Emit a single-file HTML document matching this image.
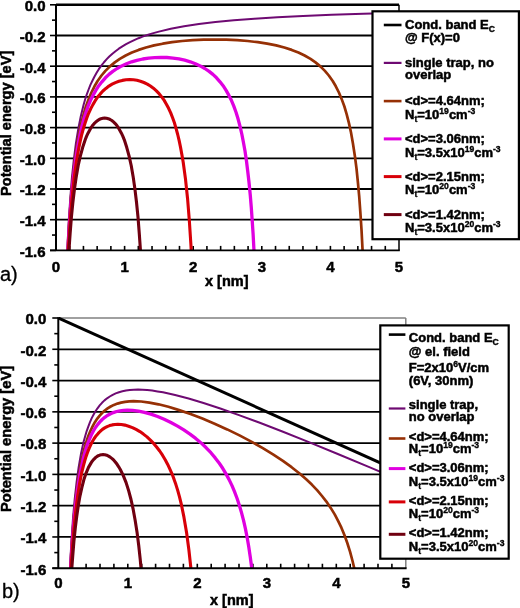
<!DOCTYPE html>
<html><head><meta charset="utf-8"><style>
html,body{margin:0;padding:0;background:#fff;width:520px;height:608px;overflow:hidden;}
svg{display:block;}
</style></head><body>
<svg width="520" height="608" viewBox="0 0 520 608" style="font-family:'Liberation Sans', Arial, sans-serif">
<style>text{stroke:#000;stroke-width:0.5px;}</style>
<rect width="520" height="608" fill="#fff"/>
<clipPath id="ca"><rect x="56.00" y="3.80" width="343.00" height="246.60"/></clipPath>
<line x1="56.00" y1="35.50" x2="399.00" y2="35.50" stroke="#000" stroke-width="1.8"/>
<line x1="56.00" y1="66.20" x2="399.00" y2="66.20" stroke="#000" stroke-width="1.8"/>
<line x1="56.00" y1="96.90" x2="399.00" y2="96.90" stroke="#000" stroke-width="1.8"/>
<line x1="56.00" y1="127.60" x2="399.00" y2="127.60" stroke="#000" stroke-width="1.8"/>
<line x1="56.00" y1="158.30" x2="399.00" y2="158.30" stroke="#000" stroke-width="1.8"/>
<line x1="56.00" y1="189.00" x2="399.00" y2="189.00" stroke="#000" stroke-width="1.8"/>
<line x1="56.00" y1="219.70" x2="399.00" y2="219.70" stroke="#000" stroke-width="1.8"/>
<line x1="50.00" y1="4.80" x2="56.00" y2="4.80" stroke="#000" stroke-width="1.6"/>
<line x1="52.00" y1="20.15" x2="56.00" y2="20.15" stroke="#000" stroke-width="1.6"/>
<line x1="50.00" y1="35.50" x2="56.00" y2="35.50" stroke="#000" stroke-width="1.6"/>
<line x1="52.00" y1="50.85" x2="56.00" y2="50.85" stroke="#000" stroke-width="1.6"/>
<line x1="50.00" y1="66.20" x2="56.00" y2="66.20" stroke="#000" stroke-width="1.6"/>
<line x1="52.00" y1="81.55" x2="56.00" y2="81.55" stroke="#000" stroke-width="1.6"/>
<line x1="50.00" y1="96.90" x2="56.00" y2="96.90" stroke="#000" stroke-width="1.6"/>
<line x1="52.00" y1="112.25" x2="56.00" y2="112.25" stroke="#000" stroke-width="1.6"/>
<line x1="50.00" y1="127.60" x2="56.00" y2="127.60" stroke="#000" stroke-width="1.6"/>
<line x1="52.00" y1="142.95" x2="56.00" y2="142.95" stroke="#000" stroke-width="1.6"/>
<line x1="50.00" y1="158.30" x2="56.00" y2="158.30" stroke="#000" stroke-width="1.6"/>
<line x1="52.00" y1="173.65" x2="56.00" y2="173.65" stroke="#000" stroke-width="1.6"/>
<line x1="50.00" y1="189.00" x2="56.00" y2="189.00" stroke="#000" stroke-width="1.6"/>
<line x1="52.00" y1="204.35" x2="56.00" y2="204.35" stroke="#000" stroke-width="1.6"/>
<line x1="50.00" y1="219.70" x2="56.00" y2="219.70" stroke="#000" stroke-width="1.6"/>
<line x1="52.00" y1="235.05" x2="56.00" y2="235.05" stroke="#000" stroke-width="1.6"/>
<line x1="50.00" y1="250.40" x2="56.00" y2="250.40" stroke="#000" stroke-width="1.6"/>
<line x1="69.72" y1="250.40" x2="69.72" y2="245.90" stroke="#000" stroke-width="1.6"/>
<line x1="83.44" y1="250.40" x2="83.44" y2="245.90" stroke="#000" stroke-width="1.6"/>
<line x1="97.16" y1="250.40" x2="97.16" y2="245.90" stroke="#000" stroke-width="1.6"/>
<line x1="110.88" y1="250.40" x2="110.88" y2="245.90" stroke="#000" stroke-width="1.6"/>
<line x1="124.60" y1="250.40" x2="124.60" y2="245.90" stroke="#000" stroke-width="1.6"/>
<line x1="138.32" y1="250.40" x2="138.32" y2="245.90" stroke="#000" stroke-width="1.6"/>
<line x1="152.04" y1="250.40" x2="152.04" y2="245.90" stroke="#000" stroke-width="1.6"/>
<line x1="165.76" y1="250.40" x2="165.76" y2="245.90" stroke="#000" stroke-width="1.6"/>
<line x1="179.48" y1="250.40" x2="179.48" y2="245.90" stroke="#000" stroke-width="1.6"/>
<line x1="193.20" y1="250.40" x2="193.20" y2="245.90" stroke="#000" stroke-width="1.6"/>
<line x1="206.92" y1="250.40" x2="206.92" y2="245.90" stroke="#000" stroke-width="1.6"/>
<line x1="220.64" y1="250.40" x2="220.64" y2="245.90" stroke="#000" stroke-width="1.6"/>
<line x1="234.36" y1="250.40" x2="234.36" y2="245.90" stroke="#000" stroke-width="1.6"/>
<line x1="248.08" y1="250.40" x2="248.08" y2="245.90" stroke="#000" stroke-width="1.6"/>
<line x1="261.80" y1="250.40" x2="261.80" y2="245.90" stroke="#000" stroke-width="1.6"/>
<line x1="275.52" y1="250.40" x2="275.52" y2="245.90" stroke="#000" stroke-width="1.6"/>
<line x1="289.24" y1="250.40" x2="289.24" y2="245.90" stroke="#000" stroke-width="1.6"/>
<line x1="302.96" y1="250.40" x2="302.96" y2="245.90" stroke="#000" stroke-width="1.6"/>
<line x1="316.68" y1="250.40" x2="316.68" y2="245.90" stroke="#000" stroke-width="1.6"/>
<line x1="330.40" y1="250.40" x2="330.40" y2="245.90" stroke="#000" stroke-width="1.6"/>
<line x1="344.12" y1="250.40" x2="344.12" y2="245.90" stroke="#000" stroke-width="1.6"/>
<line x1="357.84" y1="250.40" x2="357.84" y2="245.90" stroke="#000" stroke-width="1.6"/>
<line x1="371.56" y1="250.40" x2="371.56" y2="245.90" stroke="#000" stroke-width="1.6"/>
<line x1="385.28" y1="250.40" x2="385.28" y2="245.90" stroke="#000" stroke-width="1.6"/>
<line x1="399.00" y1="4.80" x2="399.00" y2="250.40" stroke="#000" stroke-width="1.5"/>
<g clip-path="url(#ca)" fill="none" stroke-linejoin="round">
<path d="M66.3,272.5 67.5,245.1 68.8,219.9 70.3,198.3 71.9,177.9 73.8,159.9 75.9,143.5 78.2,129.3 80.8,116.2 83.6,104.7 85.1,99.5 86.8,94.3 88.6,89.5 90.4,84.9 92.4,80.7 94.4,76.7 96.6,72.8 98.8,69.2 101.3,65.7 103.8,62.5 106.5,59.4 109.3,56.5 112.4,53.7 115.5,51.2 118.8,48.7 122.4,46.4 126.1,44.2 130.0,42.1 134.2,40.1 138.6,38.2 143.2,36.4 148.2,34.7 153.4,33.1 158.9,31.6 170.8,28.8 184.1,26.3 198.9,24.1 215.4,22.1 233.8,20.3 254.4,18.7 277.4,17.3 303.0,16.0 331.6,14.8 363.4,13.8 399.0,12.8" stroke="#6e0a72" stroke-width="2.0"/>
<path d="M66.8,268.4 68.8,229.6 70.0,211.6 71.1,196.3 72.3,183.3 73.9,168.5 75.4,156.2 77.4,143.2 79.3,132.5 81.3,123.4 83.6,114.3 85.9,106.5 88.7,98.9 91.4,92.5 94.5,86.3 97.6,81.0 101.5,75.5 105.4,70.9 109.7,66.6 114.8,62.4 119.8,58.9 125.7,55.5 131.9,52.5 138.6,49.9 146.0,47.5 154.1,45.4 162.7,43.7 172.1,42.2 182.2,41.0 192.7,40.2 203.7,39.7 215.0,39.5 226.3,39.6 237.2,40.1 247.7,41.0 257.8,42.2 267.2,43.6 276.2,45.4 284.3,47.5 291.7,49.9 298.4,52.5 304.6,55.5 310.5,58.9 315.5,62.4 320.6,66.6 324.9,70.9 328.8,75.5 332.7,81.0 335.8,86.3 338.9,92.5 341.6,98.9 344.4,106.5 346.7,114.3 349.0,123.4 351.0,132.5 352.9,143.2 354.9,156.2 356.5,168.5 358.0,183.3 359.2,196.3 360.3,211.6 361.5,229.6 363.5,268.4" stroke="#963005" stroke-width="2.7"/>
<path d="M67.1,268.3 68.8,233.8 70.6,207.7 71.6,195.5 72.9,182.3 74.2,171.0 75.4,161.2 77.0,151.0 78.5,142.2 80.0,134.5 81.8,126.7 83.8,119.1 85.9,112.5 88.1,106.1 90.4,100.6 93.0,95.4 95.8,90.4 98.8,85.7 101.9,81.8 105.4,77.8 109.0,74.4 112.8,71.4 117.1,68.5 121.7,65.9 126.5,63.7 131.6,61.8 136.9,60.3 142.8,59.0 148.6,58.1 154.7,57.6 160.8,57.4 166.9,57.5 173.0,58.1 178.9,58.9 184.7,60.2 190.3,61.8 195.4,63.7 200.2,65.9 204.8,68.5 209.1,71.4 212.9,74.4 216.5,77.8 220.0,81.8 223.1,85.7 226.1,90.4 228.9,95.4 231.5,100.6 233.8,106.1 236.1,112.5 238.1,119.1 240.1,126.7 241.9,134.5 243.4,142.2 245.0,151.0 246.5,161.2 247.7,171.0 249.0,182.3 250.3,195.5 251.3,207.7 253.1,233.8 254.9,268.3" stroke="#e000e0" stroke-width="3.3"/>
<path d="M67.2,271.9 68.6,244.5 70.2,220.2 71.9,199.0 74.0,179.1 76.3,162.2 78.8,148.0 80.2,141.2 81.6,135.2 83.2,129.2 85.0,123.4 86.7,118.3 88.6,113.3 90.8,108.6 92.9,104.6 95.2,100.7 97.6,97.1 100.3,93.9 102.9,91.0 105.9,88.4 108.9,86.1 112.1,84.2 115.4,82.6 118.9,81.3 122.4,80.4 126.0,79.8 129.7,79.6 133.4,79.8 136.9,80.3 140.4,81.2 143.9,82.5 147.3,84.1 150.4,86.0 153.4,88.2 156.4,90.9 159.1,93.7 161.7,96.9 164.2,100.4 166.4,104.2 168.6,108.3 170.7,112.9 172.6,117.8 174.4,122.8 176.1,128.6 177.7,134.5 179.1,140.4 180.5,147.1 181.9,154.7 183.2,162.2 185.5,179.1 187.6,199.0 189.3,220.2 190.9,244.5 192.3,271.9" stroke="#d80008" stroke-width="3.1"/>
<path d="M67.7,272.7 68.8,252.3 70.1,233.8 71.4,217.1 72.9,202.2 74.5,188.9 76.3,176.4 78.2,165.5 80.3,156.1 82.7,147.3 85.2,139.8 86.5,136.4 88.0,133.2 89.5,130.4 90.9,127.9 92.5,125.6 94.1,123.7 95.8,122.0 97.5,120.6 99.2,119.5 101.0,118.7 102.8,118.3 104.6,118.1 106.5,118.2 108.3,118.7 110.1,119.5 111.8,120.5 113.5,121.9 115.2,123.6 116.9,125.6 118.5,127.9 119.9,130.4 121.4,133.2 122.9,136.4 124.3,139.8 126.7,147.3 129.1,156.1 131.2,165.5 133.1,176.4 134.9,188.9 136.5,202.2 138.0,217.1 139.3,233.8 140.6,252.3 141.7,272.7" stroke="#700010" stroke-width="3.1"/>
</g>
<line x1="56.00" y1="4.80" x2="399.00" y2="4.80" stroke="#000" stroke-width="2.6"/>
<line x1="56.00" y1="4.00" x2="56.00" y2="250.40" stroke="#000" stroke-width="2"/>
<line x1="50.00" y1="250.40" x2="399.80" y2="250.40" stroke="#000" stroke-width="1.8"/>
<text x="45.50" y="11.10" text-anchor="end" font-size="15.0" font-weight="bold">0.0</text>
<text x="45.50" y="41.80" text-anchor="end" font-size="15.0" font-weight="bold">-0.2</text>
<text x="45.50" y="72.50" text-anchor="end" font-size="15.0" font-weight="bold">-0.4</text>
<text x="45.50" y="103.20" text-anchor="end" font-size="15.0" font-weight="bold">-0.6</text>
<text x="45.50" y="133.90" text-anchor="end" font-size="15.0" font-weight="bold">-0.8</text>
<text x="45.50" y="164.60" text-anchor="end" font-size="15.0" font-weight="bold">-1.0</text>
<text x="45.50" y="195.30" text-anchor="end" font-size="15.0" font-weight="bold">-1.2</text>
<text x="45.50" y="226.00" text-anchor="end" font-size="15.0" font-weight="bold">-1.4</text>
<text x="45.50" y="256.70" text-anchor="end" font-size="15.0" font-weight="bold">-1.6</text>
<text x="56.00" y="271.90" text-anchor="middle" font-size="15.0" font-weight="bold">0</text>
<text x="124.60" y="271.90" text-anchor="middle" font-size="15.0" font-weight="bold">1</text>
<text x="193.20" y="271.90" text-anchor="middle" font-size="15.0" font-weight="bold">2</text>
<text x="261.80" y="271.90" text-anchor="middle" font-size="15.0" font-weight="bold">3</text>
<text x="330.40" y="271.90" text-anchor="middle" font-size="15.0" font-weight="bold">4</text>
<text x="399.00" y="271.90" text-anchor="middle" font-size="15.0" font-weight="bold">5</text>
<clipPath id="cb"><rect x="58.30" y="317.00" width="347.50" height="251.24"/></clipPath>
<line x1="58.30" y1="349.28" x2="405.80" y2="349.28" stroke="#000" stroke-width="1.8"/>
<line x1="58.30" y1="380.56" x2="405.80" y2="380.56" stroke="#000" stroke-width="1.8"/>
<line x1="58.30" y1="411.84" x2="405.80" y2="411.84" stroke="#000" stroke-width="1.8"/>
<line x1="58.30" y1="443.12" x2="405.80" y2="443.12" stroke="#000" stroke-width="1.8"/>
<line x1="58.30" y1="474.40" x2="405.80" y2="474.40" stroke="#000" stroke-width="1.8"/>
<line x1="58.30" y1="505.68" x2="405.80" y2="505.68" stroke="#000" stroke-width="1.8"/>
<line x1="58.30" y1="536.96" x2="405.80" y2="536.96" stroke="#000" stroke-width="1.8"/>
<line x1="52.30" y1="318.00" x2="58.30" y2="318.00" stroke="#000" stroke-width="1.6"/>
<line x1="54.30" y1="333.64" x2="58.30" y2="333.64" stroke="#000" stroke-width="1.6"/>
<line x1="52.30" y1="349.28" x2="58.30" y2="349.28" stroke="#000" stroke-width="1.6"/>
<line x1="54.30" y1="364.92" x2="58.30" y2="364.92" stroke="#000" stroke-width="1.6"/>
<line x1="52.30" y1="380.56" x2="58.30" y2="380.56" stroke="#000" stroke-width="1.6"/>
<line x1="54.30" y1="396.20" x2="58.30" y2="396.20" stroke="#000" stroke-width="1.6"/>
<line x1="52.30" y1="411.84" x2="58.30" y2="411.84" stroke="#000" stroke-width="1.6"/>
<line x1="54.30" y1="427.48" x2="58.30" y2="427.48" stroke="#000" stroke-width="1.6"/>
<line x1="52.30" y1="443.12" x2="58.30" y2="443.12" stroke="#000" stroke-width="1.6"/>
<line x1="54.30" y1="458.76" x2="58.30" y2="458.76" stroke="#000" stroke-width="1.6"/>
<line x1="52.30" y1="474.40" x2="58.30" y2="474.40" stroke="#000" stroke-width="1.6"/>
<line x1="54.30" y1="490.04" x2="58.30" y2="490.04" stroke="#000" stroke-width="1.6"/>
<line x1="52.30" y1="505.68" x2="58.30" y2="505.68" stroke="#000" stroke-width="1.6"/>
<line x1="54.30" y1="521.32" x2="58.30" y2="521.32" stroke="#000" stroke-width="1.6"/>
<line x1="52.30" y1="536.96" x2="58.30" y2="536.96" stroke="#000" stroke-width="1.6"/>
<line x1="54.30" y1="552.60" x2="58.30" y2="552.60" stroke="#000" stroke-width="1.6"/>
<line x1="52.30" y1="568.24" x2="58.30" y2="568.24" stroke="#000" stroke-width="1.6"/>
<line x1="72.20" y1="568.24" x2="72.20" y2="563.74" stroke="#000" stroke-width="1.6"/>
<line x1="86.10" y1="568.24" x2="86.10" y2="563.74" stroke="#000" stroke-width="1.6"/>
<line x1="100.00" y1="568.24" x2="100.00" y2="563.74" stroke="#000" stroke-width="1.6"/>
<line x1="113.90" y1="568.24" x2="113.90" y2="563.74" stroke="#000" stroke-width="1.6"/>
<line x1="127.80" y1="568.24" x2="127.80" y2="563.74" stroke="#000" stroke-width="1.6"/>
<line x1="141.70" y1="568.24" x2="141.70" y2="563.74" stroke="#000" stroke-width="1.6"/>
<line x1="155.60" y1="568.24" x2="155.60" y2="563.74" stroke="#000" stroke-width="1.6"/>
<line x1="169.50" y1="568.24" x2="169.50" y2="563.74" stroke="#000" stroke-width="1.6"/>
<line x1="183.40" y1="568.24" x2="183.40" y2="563.74" stroke="#000" stroke-width="1.6"/>
<line x1="197.30" y1="568.24" x2="197.30" y2="563.74" stroke="#000" stroke-width="1.6"/>
<line x1="211.20" y1="568.24" x2="211.20" y2="563.74" stroke="#000" stroke-width="1.6"/>
<line x1="225.10" y1="568.24" x2="225.10" y2="563.74" stroke="#000" stroke-width="1.6"/>
<line x1="239.00" y1="568.24" x2="239.00" y2="563.74" stroke="#000" stroke-width="1.6"/>
<line x1="252.90" y1="568.24" x2="252.90" y2="563.74" stroke="#000" stroke-width="1.6"/>
<line x1="266.80" y1="568.24" x2="266.80" y2="563.74" stroke="#000" stroke-width="1.6"/>
<line x1="280.70" y1="568.24" x2="280.70" y2="563.74" stroke="#000" stroke-width="1.6"/>
<line x1="294.60" y1="568.24" x2="294.60" y2="563.74" stroke="#000" stroke-width="1.6"/>
<line x1="308.50" y1="568.24" x2="308.50" y2="563.74" stroke="#000" stroke-width="1.6"/>
<line x1="322.40" y1="568.24" x2="322.40" y2="563.74" stroke="#000" stroke-width="1.6"/>
<line x1="336.30" y1="568.24" x2="336.30" y2="563.74" stroke="#000" stroke-width="1.6"/>
<line x1="350.20" y1="568.24" x2="350.20" y2="563.74" stroke="#000" stroke-width="1.6"/>
<line x1="364.10" y1="568.24" x2="364.10" y2="563.74" stroke="#000" stroke-width="1.6"/>
<line x1="378.00" y1="568.24" x2="378.00" y2="563.74" stroke="#000" stroke-width="1.6"/>
<line x1="391.90" y1="568.24" x2="391.90" y2="563.74" stroke="#000" stroke-width="1.6"/>
<line x1="405.80" y1="318.00" x2="405.80" y2="568.24" stroke="#808080" stroke-width="1.5"/>
<g clip-path="url(#cb)" fill="none" stroke-linejoin="round">
<path d="M68.9,591.1 70.1,564.6 71.5,540.2 73.0,518.4 74.7,499.0 76.6,482.1 78.7,466.8 81.0,453.7 83.6,441.8 85.1,436.4 86.6,431.3 88.2,426.8 89.9,422.4 91.6,418.4 93.5,414.7 95.5,411.3 97.5,408.3 99.7,405.4 102.0,402.8 104.5,400.4 107.1,398.3 109.8,396.5 112.7,394.8 115.7,393.4 119.0,392.2 122.4,391.3 126.0,390.5 129.8,390.0 133.8,389.7 138.1,389.6 142.5,389.7 147.2,390.0 152.2,390.6 157.5,391.4 163.0,392.3 175.1,395.0 188.6,398.5 203.5,403.0 220.3,408.5 239.0,415.1 259.8,422.8 283.0,431.8 308.9,442.1 337.8,454.0 369.9,467.4 405.8,482.6" stroke="#6e0a72" stroke-width="2.0"/>
<path d="M69.3,591.5 70.5,566.8 72.0,540.6 74.0,515.6 76.0,496.3 78.4,478.4 80.7,464.6 82.3,457.0 83.9,450.4 85.5,444.7 87.0,439.7 88.6,435.3 90.6,430.5 92.6,426.4 94.9,422.2 97.3,418.6 99.7,415.6 102.1,413.0 104.8,410.5 107.6,408.4 110.7,406.5 113.9,404.9 117.5,403.6 121.0,402.6 125.0,401.9 129.3,401.4 133.6,401.2 137.2,401.3 141.2,401.5 149.4,402.6 158.5,404.3 168.4,406.8 179.1,410.1 190.5,414.0 202.4,418.6 214.6,423.7 227.2,429.4 239.5,435.4 251.3,441.6 262.8,448.1 273.0,454.3 282.9,460.9 291.6,467.2 299.9,473.7 306.2,479.3 311.8,484.6 317.3,490.4 322.0,496.0 326.4,501.6 330.7,507.9 334.7,514.4 338.2,521.1 341.4,527.7 344.5,535.3 347.3,543.0 350.1,551.8 352.4,560.5 354.4,568.8 356.4,578.4 358.3,589.5" stroke="#963005" stroke-width="2.7"/>
<path d="M69.5,591.5 70.8,565.9 72.3,541.6 74.1,519.5 75.9,502.0 78.0,486.2 79.3,478.0 80.6,470.9 83.1,459.0 84.7,453.1 86.2,447.9 87.8,443.4 89.6,438.8 91.4,434.8 93.4,430.9 95.5,427.5 97.6,424.6 99.9,421.9 102.2,419.5 104.8,417.3 107.3,415.5 110.2,414.0 113.3,412.6 116.6,411.5 120.0,410.8 123.6,410.3 127.2,410.2 132.6,410.3 138.5,411.1 144.4,412.3 150.9,414.1 157.6,416.5 164.2,419.2 170.9,422.5 177.6,426.1 183.8,429.9 190.0,434.1 195.7,438.4 201.1,442.9 206.2,447.8 210.9,452.7 215.2,457.9 219.3,463.3 222.7,468.3 226.0,473.9 229.1,479.6 232.0,485.6 234.5,491.7 237.1,498.5 239.4,505.5 241.5,512.6 243.6,520.6 245.4,528.6 247.2,537.7 248.7,546.5 250.2,556.6 251.5,566.2 252.8,577.1 254.1,589.5" stroke="#e000e0" stroke-width="3.3"/>
<path d="M69.8,591.5 71.0,568.0 72.5,546.4 74.1,526.9 75.7,511.2 77.5,497.1 79.6,483.5 81.9,471.8 83.2,466.6 84.6,461.3 86.0,456.6 87.5,452.5 89.1,448.4 90.7,444.9 92.4,441.5 94.2,438.5 96.2,435.7 98.2,433.4 100.3,431.2 102.4,429.4 104.7,427.9 107.1,426.6 109.6,425.6 112.2,424.9 114.9,424.5 117.8,424.3 121.3,424.5 124.9,425.1 128.6,426.2 132.4,427.6 136.1,429.4 139.9,431.6 143.4,434.1 147.0,436.9 150.4,440.1 153.6,443.4 156.6,447.0 159.7,451.0 162.5,455.2 165.2,459.7 167.7,464.4 170.0,469.3 172.2,474.3 174.1,479.4 175.9,484.6 177.7,490.4 179.5,496.8 181.1,503.3 183.9,516.9 186.6,532.7 188.9,550.0 191.1,570.0 192.8,591.0" stroke="#d80008" stroke-width="3.1"/>
<path d="M70.5,589.8 71.5,572.5 72.7,556.3 73.9,541.4 75.3,527.8 76.7,516.5 78.3,505.5 80.0,495.8 81.9,487.4 83.9,479.6 86.1,473.1 88.5,467.4 91.1,462.9 92.4,460.9 93.8,459.3 95.3,457.8 96.8,456.6 98.3,455.7 99.9,455.1 101.5,454.7 103.1,454.6 104.8,454.7 106.7,455.2 108.5,456.1 110.2,457.1 112.1,458.6 113.8,460.2 115.5,462.2 117.1,464.3 118.7,466.8 120.3,469.5 123.3,475.6 126.1,482.6 128.7,490.9 131.0,499.5 133.2,509.4 135.1,520.0 137.0,531.9 138.7,545.3 140.2,559.2 141.6,574.4 142.8,591.0" stroke="#700010" stroke-width="3.1"/>
</g>
<line x1="58.30" y1="318.00" x2="405.80" y2="318.00" stroke="#808080" stroke-width="1.3"/>
<g clip-path="url(#cb)"><line x1="58.30" y1="318.00" x2="405.80" y2="474.40" stroke="#000" stroke-width="3"/></g>
<line x1="58.30" y1="317.20" x2="58.30" y2="568.24" stroke="#000" stroke-width="2"/>
<line x1="52.30" y1="568.24" x2="406.60" y2="568.24" stroke="#000" stroke-width="1.8"/>
<text x="46.30" y="324.30" text-anchor="end" font-size="15.0" font-weight="bold">0.0</text>
<text x="46.30" y="355.58" text-anchor="end" font-size="15.0" font-weight="bold">-0.2</text>
<text x="46.30" y="386.86" text-anchor="end" font-size="15.0" font-weight="bold">-0.4</text>
<text x="46.30" y="418.14" text-anchor="end" font-size="15.0" font-weight="bold">-0.6</text>
<text x="46.30" y="449.42" text-anchor="end" font-size="15.0" font-weight="bold">-0.8</text>
<text x="46.30" y="480.70" text-anchor="end" font-size="15.0" font-weight="bold">-1.0</text>
<text x="46.30" y="511.98" text-anchor="end" font-size="15.0" font-weight="bold">-1.2</text>
<text x="46.30" y="543.26" text-anchor="end" font-size="15.0" font-weight="bold">-1.4</text>
<text x="46.30" y="574.54" text-anchor="end" font-size="15.0" font-weight="bold">-1.6</text>
<text x="58.30" y="587.54" text-anchor="middle" font-size="15.0" font-weight="bold">0</text>
<text x="127.80" y="587.54" text-anchor="middle" font-size="15.0" font-weight="bold">1</text>
<text x="197.30" y="587.54" text-anchor="middle" font-size="15.0" font-weight="bold">2</text>
<text x="266.80" y="587.54" text-anchor="middle" font-size="15.0" font-weight="bold">3</text>
<text x="336.30" y="587.54" text-anchor="middle" font-size="15.0" font-weight="bold">4</text>
<text x="405.80" y="587.54" text-anchor="middle" font-size="15.0" font-weight="bold">5</text>
<rect x="372.50" y="11.30" width="146.40" height="227.90" fill="#fff" stroke="#000" stroke-width="2.2"/>
<line x1="383.80" y1="25.00" x2="401.50" y2="25.00" stroke="#000" stroke-width="2.6"/>
<text x="405.00" y="29.20" font-size="13" font-weight="bold">Cond. band E<tspan font-size="8.6" style="stroke-width:0.35px" dy="3">C</tspan></text>
<text x="405.00" y="41.70" font-size="13" font-weight="bold">@ F(x)=0</text>
<line x1="383.80" y1="62.90" x2="401.50" y2="62.90" stroke="#6e0a72" stroke-width="2.2"/>
<text x="405.00" y="67.30" font-size="13" font-weight="bold">single trap, no</text>
<text x="405.00" y="78.80" font-size="13" font-weight="bold">overlap</text>
<line x1="383.80" y1="101.10" x2="401.50" y2="101.10" stroke="#963005" stroke-width="2.6"/>
<text x="405.00" y="105.40" font-size="13" font-weight="bold">&lt;d&gt;=4.64nm;</text>
<text x="405.00" y="118.50" font-size="13" font-weight="bold">N<tspan font-size="8.6" style="stroke-width:0.35px" dy="3">t</tspan><tspan dy="-3">=10</tspan><tspan font-size="8.6" style="stroke-width:0.35px" dy="-5">19</tspan><tspan dy="5">cm</tspan><tspan font-size="8.6" style="stroke-width:0.35px" dy="-5">-3</tspan></text>
<line x1="383.80" y1="138.90" x2="401.50" y2="138.90" stroke="#e000e0" stroke-width="3.0"/>
<text x="405.00" y="143.10" font-size="13" font-weight="bold">&lt;d&gt;=3.06nm;</text>
<text x="405.00" y="156.50" font-size="13" font-weight="bold">N<tspan font-size="8.6" style="stroke-width:0.35px" dy="3">t</tspan><tspan dy="-3">=3.5x10</tspan><tspan font-size="8.6" style="stroke-width:0.35px" dy="-5">19</tspan><tspan dy="5">cm</tspan><tspan font-size="8.6" style="stroke-width:0.35px" dy="-5">-3</tspan></text>
<line x1="383.80" y1="176.60" x2="401.50" y2="176.60" stroke="#d80008" stroke-width="3.0"/>
<text x="405.00" y="180.80" font-size="13" font-weight="bold">&lt;d&gt;=2.15nm;</text>
<text x="405.00" y="194.20" font-size="13" font-weight="bold">N<tspan font-size="8.6" style="stroke-width:0.35px" dy="3">t</tspan><tspan dy="-3">=10</tspan><tspan font-size="8.6" style="stroke-width:0.35px" dy="-5">20</tspan><tspan dy="5">cm</tspan><tspan font-size="8.6" style="stroke-width:0.35px" dy="-5">-3</tspan></text>
<line x1="383.80" y1="214.60" x2="401.50" y2="214.60" stroke="#700010" stroke-width="3.0"/>
<text x="405.00" y="219.20" font-size="13" font-weight="bold">&lt;d&gt;=1.42nm;</text>
<text x="405.00" y="232.00" font-size="13" font-weight="bold">N<tspan font-size="8.6" style="stroke-width:0.35px" dy="3">t</tspan><tspan dy="-3">=3.5x10</tspan><tspan font-size="8.6" style="stroke-width:0.35px" dy="-5">20</tspan><tspan dy="5">cm</tspan><tspan font-size="8.6" style="stroke-width:0.35px" dy="-5">-3</tspan></text>
<rect x="380.30" y="325.40" width="128.40" height="233.30" fill="#fff" stroke="#000" stroke-width="2.2"/>
<line x1="388.80" y1="334.60" x2="405.40" y2="334.60" stroke="#000" stroke-width="2.6"/>
<text x="408.80" y="341.80" font-size="13" font-weight="bold">Cond. band E<tspan font-size="8.6" style="stroke-width:0.35px" dy="3">C</tspan></text>
<text x="408.80" y="356.30" font-size="13" font-weight="bold">@ el. field</text>
<text x="408.80" y="372.40" font-size="13" font-weight="bold">F=2x10<tspan font-size="8.6" style="stroke-width:0.35px" dy="-5">6</tspan><tspan dy="5">V/cm</tspan></text>
<text x="408.80" y="385.30" font-size="13" font-weight="bold">(6V, 30nm)</text>
<line x1="388.80" y1="408.50" x2="405.40" y2="408.50" stroke="#6e0a72" stroke-width="2.2"/>
<text x="408.80" y="409.20" font-size="13" font-weight="bold">single trap,</text>
<text x="408.80" y="420.80" font-size="13" font-weight="bold">no overlap</text>
<line x1="388.80" y1="438.50" x2="405.40" y2="438.50" stroke="#963005" stroke-width="2.6"/>
<text x="408.80" y="440.80" font-size="13" font-weight="bold">&lt;d&gt;=4.64nm;</text>
<text x="408.80" y="453.40" font-size="13" font-weight="bold">N<tspan font-size="8.6" style="stroke-width:0.35px" dy="3">t</tspan><tspan dy="-3">=10</tspan><tspan font-size="8.6" style="stroke-width:0.35px" dy="-5">19</tspan><tspan dy="5">cm</tspan><tspan font-size="8.6" style="stroke-width:0.35px" dy="-5">-3</tspan></text>
<line x1="388.80" y1="468.60" x2="405.40" y2="468.60" stroke="#e000e0" stroke-width="3.0"/>
<text x="408.80" y="472.30" font-size="13" font-weight="bold">&lt;d&gt;=3.06nm;</text>
<text x="408.80" y="485.50" font-size="13" font-weight="bold">N<tspan font-size="8.6" style="stroke-width:0.35px" dy="3">t</tspan><tspan dy="-3">=3.5x10</tspan><tspan font-size="8.6" style="stroke-width:0.35px" dy="-5">19</tspan><tspan dy="5">cm</tspan><tspan font-size="8.6" style="stroke-width:0.35px" dy="-5">-3</tspan></text>
<line x1="388.80" y1="501.90" x2="405.40" y2="501.90" stroke="#d80008" stroke-width="3.0"/>
<text x="408.80" y="505.20" font-size="13" font-weight="bold">&lt;d&gt;=2.15nm;</text>
<text x="408.80" y="518.40" font-size="13" font-weight="bold">N<tspan font-size="8.6" style="stroke-width:0.35px" dy="3">t</tspan><tspan dy="-3">=10</tspan><tspan font-size="8.6" style="stroke-width:0.35px" dy="-5">20</tspan><tspan dy="5">cm</tspan><tspan font-size="8.6" style="stroke-width:0.35px" dy="-5">-3</tspan></text>
<line x1="388.80" y1="534.30" x2="405.40" y2="534.30" stroke="#700010" stroke-width="3.0"/>
<text x="408.80" y="537.30" font-size="13" font-weight="bold">&lt;d&gt;=1.42nm;</text>
<text x="408.80" y="550.50" font-size="13" font-weight="bold">N<tspan font-size="8.6" style="stroke-width:0.35px" dy="3">t</tspan><tspan dy="-3">=3.5x10</tspan><tspan font-size="8.6" style="stroke-width:0.35px" dy="-5">20</tspan><tspan dy="5">cm</tspan><tspan font-size="8.6" style="stroke-width:0.35px" dy="-5">-3</tspan></text>
<text transform="translate(10.6,195.9) rotate(-90)" font-size="14.6" font-weight="bold">Potential energy [eV]</text>
<text transform="translate(10.6,512) rotate(-90)" font-size="14.7" font-weight="bold">Potential energy [eV]</text>
<text x="205" y="286.2" font-size="14.5" font-weight="bold">x [nm]</text>
<text x="210" y="604.6" font-size="14.5" font-weight="bold">x [nm]</text>
<text x="0" y="281" font-size="20" style="stroke-width:0.3px">a)</text>
<text x="2" y="598" font-size="20" style="stroke-width:0.3px">b)</text>
</svg>
</body></html>
